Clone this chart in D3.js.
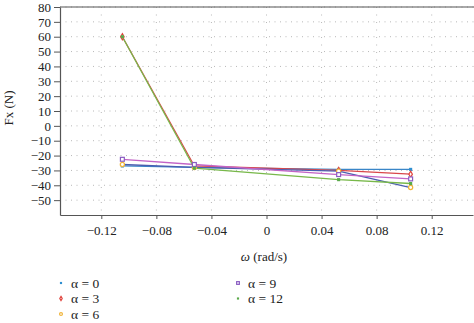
<!DOCTYPE html>
<html>
<head>
<meta charset="utf-8">
<script src="https://cdn.jsdelivr.net/npm/d3@7"></script>
<style>
  html, body { margin: 0; padding: 0; background: #fff; }
  svg { display: block; }
  svg text { font-family: "Times New Roman", "Liberation Serif", Times, serif; }
</style>
</head>
<body>
<svg id="chart" width="474" height="323"></svg>
<script>
// Angular velocity samples (rad/s)
const omega = [-0.1047, -0.0524, 0.0524, 0.1047];

// Fx (N) for each angle of attack
const alpha0  = [-27.0, -28.0, -29.3, -29.3];
const alpha3  = [60.0, -27.0, -30.0, -32.5];
const alpha6  = [-26.0, -28.0, -30.5, -41.5];
const alpha9  = [-22.5, -26.0, -32.8, -35.7];
const alpha12 = [60.0, -28.5, -36.2, -38.8];

const seriesNames = ["α = 0", "α = 3", "α = 6", "α = 9", "α = 12"];

const xTicks = [-0.12, -0.08, -0.04, 0, 0.04, 0.08, 0.12];
const yTicks = [80, 70, 60, 50, 40, 30, 20, 10, 0, -10, -20, -30, -40, -50];

const series = [
  { name: seriesNames[0], values: alpha0,  line: "#3a86c8", mark: "#2f8fd0", shape: "dot" },
  { name: seriesNames[1], values: alpha3,  line: "#d9474a", mark: "#e0463f", shape: "diamond" },
  { name: seriesNames[2], values: alpha6,  line: "#4a5db0", mark: "#f0b43a", shape: "circle" },
  { name: seriesNames[3], values: alpha9,  line: "#c264c6", mark: "#8a5cc2", shape: "square" },
  { name: seriesNames[4], values: alpha12, line: "#78b84a", mark: "#5aaa4a", shape: "dot" }
];

const svg = d3.select("#chart");
const x = d3.scaleLinear().domain([-0.15, 0.15]).range([60, 473]);
const y = d3.scaleLinear().domain([-60, 80]).range([215, 7]);

// dotted grid
const grid = svg.append("g");
grid.selectAll("line.h").data(d3.range(-50, 81, 10)).join("line")
  .attr("x1", 60).attr("x2", 474)
  .attr("y1", d => y(d)).attr("y2", d => y(d))
  .attr("stroke", "#b8b8b8").attr("stroke-width", 1).attr("stroke-dasharray", "1,4.5");
grid.selectAll("line.v").data(xTicks).join("line")
  .attr("x1", d => x(d)).attr("x2", d => x(d))
  .attr("y1", 7).attr("y2", 215)
  .attr("stroke", "#b8b8b8").attr("stroke-width", 1).attr("stroke-dasharray", "1,6.5");

// frame
svg.append("line").attr("x1", 60).attr("x2", 474).attr("y1", 7).attr("y2", 7)
  .attr("stroke", "#555").attr("stroke-width", 1.2);

// axes
const fmtY = d => (d < 0 ? "\u2212" + Math.abs(d) : String(d));
const yAxis = svg.append("g").attr("transform", "translate(60,0)")
  .call(d3.axisLeft(y).tickValues(yTicks).tickSize(6).tickSizeOuter(0).tickPadding(3).tickFormat(fmtY));
const xAxis = svg.append("g").attr("transform", "translate(0,215)")
  .call(d3.axisBottom(x).tickValues(xTicks).tickSize(4).tickSizeOuter(0).tickPadding(7)
    .tickFormat(d => d === 0 ? "0" : d3.format(".2f")(d)));
[yAxis, xAxis].forEach(a => {
  a.attr("font-family", null).attr("font-size", null);
  a.select(".domain").attr("stroke", "#555").attr("stroke-width", 1.2);
  a.selectAll(".tick line").attr("stroke", "#555");
  a.selectAll(".tick text").attr("fill", "#222").style("font-size", "13px");
});

// axis titles
const xt = svg.append("text").attr("x", 264).attr("y", 261).attr("text-anchor", "middle")
  .attr("fill", "#222").style("font-size", "13px");
xt.append("tspan").attr("font-style", "italic").text("ω");
xt.append("tspan").text(" (rad/s)");
svg.append("text").attr("transform", "translate(13,108) rotate(-90)")
  .attr("text-anchor", "middle").attr("fill", "#222").style("font-size", "13px").text("Fx (N)");

// marker drawing
function marker(g, shape, color, cx, cy, s) {
  if (shape === "dot") {
    g.append("rect").attr("x", cx - s * 0.6).attr("y", cy - s * 0.6)
      .attr("width", s * 1.2).attr("height", s * 1.2).attr("fill", color);
  } else if (shape === "diamond") {
    g.append("path").attr("d", d3.symbol().type(d3.symbolDiamond).size(s * s * 1.6)())
      .attr("transform", `translate(${cx},${cy})`)
      .attr("fill", "#fff").attr("stroke", color).attr("stroke-width", 1.2);
  } else if (shape === "circle") {
    g.append("circle").attr("cx", cx).attr("cy", cy).attr("r", s * 0.8)
      .attr("fill", "#fff").attr("stroke", color).attr("stroke-width", 1.2);
  } else {
    g.append("rect").attr("x", cx - s * 0.75).attr("y", cy - s * 0.75)
      .attr("width", s * 1.5).attr("height", s * 1.5)
      .attr("fill", "#fff").attr("stroke", color).attr("stroke-width", 1.2);
  }
}

// lines
const line = d3.line().x((d, i) => x(omega[i])).y(d => y(d));
const plot = svg.append("g");
series.forEach(s => {
  plot.append("path").datum(s.values).attr("d", line)
    .attr("fill", "none").attr("stroke", s.line).attr("stroke-width", 1.3);
});
series.forEach(s => {
  const g = plot.append("g");
  s.values.forEach((v, i) => marker(g, s.shape, s.mark, x(omega[i]), y(v), 2.6));
});

// legend
const legendPos = [[61, 283], [61, 298.5], [61, 314], [238, 283], [238, 298.5]];
series.forEach((s, i) => {
  const [lx, ly] = legendPos[i];
  const g = svg.append("g");
  marker(g, s.shape, s.mark, lx, ly, 1.8);
  g.append("text").attr("x", lx + 10).attr("y", ly + 4.5).attr("fill", "#222")
    .style("font-size", "13.5px").text(s.name);
});
</script>
</body>
</html>
